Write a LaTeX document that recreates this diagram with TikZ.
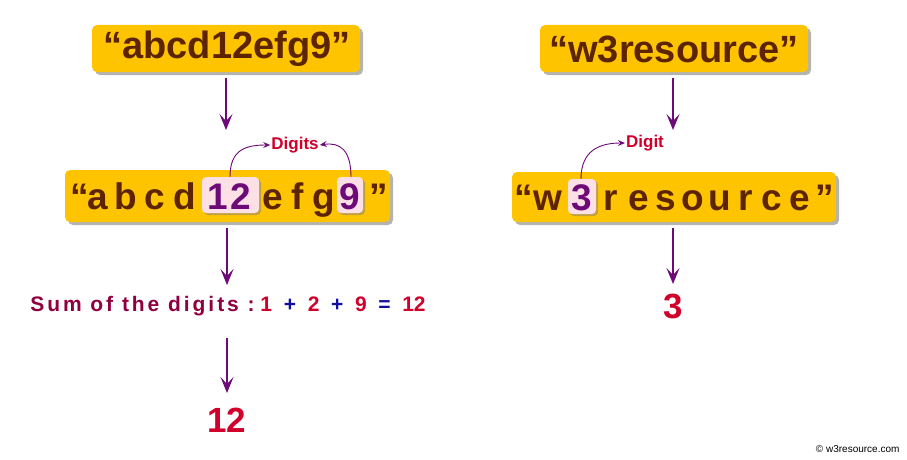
\documentclass[tikz,border=0pt]{standalone}
\usepackage{fontspec}
\setmainfont{Liberation Sans}
\usetikzlibrary{shadows,arrows.meta}
\definecolor{gold}{HTML}{FFC400}
\definecolor{brn}{HTML}{5C2400}
\definecolor{pinkbg}{HTML}{FDE0E6}
\definecolor{purp}{HTML}{6E0A78}
\definecolor{rd}{HTML}{D0002A}
\definecolor{wine}{HTML}{900040}
\definecolor{nav}{HTML}{1010A0}
\tikzset{
 ybox/.style={fill=gold,rounded corners=5pt,drop shadow={shadow xshift=3pt,shadow yshift=-3pt,fill=black!50,opacity=.6}},
 pbox/.style={fill=pinkbg,rounded corners=4pt,drop shadow={shadow xshift=2pt,shadow yshift=-2pt,fill=black!50,opacity=.5}},
 ch/.style={text=brn,font=\fontsize{37}{37}\selectfont\bfseries,inner sep=0pt,anchor=base},
 dg/.style={ch,text=purp},
 arr/.style={draw=purp,line width=2.2pt,-{Stealth[length=16pt,width=13pt,inset=7pt]}},
 carr/.style={draw=purp,line width=0.9pt,-{Stealth[length=7pt,width=6pt,inset=2.5pt]}},
 lbl/.style={text=rd,font=\fontsize{17}{17}\selectfont\bfseries,inner sep=1pt}
}
\begin{document}
\begin{tikzpicture}[x=1pt,y=-1pt]
\useasboundingbox (0,0) rectangle (907,460);
% top boxes
\path[ybox] (92,25) rectangle (360,72);
\node[ch,anchor=center,font=\fontsize{38}{38}\selectfont\bfseries] (t1) at (227,49) {“abcd12efg9”};
\path[ybox] (540,25) rectangle (808,72);
\node[ch,anchor=center,font=\fontsize{38}{38}\selectfont\bfseries] (t2) at (674,49) {“w3resource”};
% middle left
\path[ybox] (65,170) rectangle (390,222);
\path[pbox] (202,177) rectangle (259,213);
\path[pbox] (337,177) rectangle (363,213);
\foreach \c/\x in {“/80,a/98,b/126,c/155,d/185,e/273,f/298,g/324,”/379}
  \node[ch,anchor=base] at (\x,209) {\c};
\foreach \c/\x in {1/218,2/241,9/350}
  \node[dg] at (\x,209) {\c};
% middle right
\path[ybox] (512,172) rectangle (836,222);
\path[pbox] (568,179) rectangle (596,214);
\foreach \c/\x in {“/524,w/548,r/611,e/639,s/666,o/693,u/720,r/746,c/772,e/800,”/825}
  \node[ch] at (\x,210) {\c};
\node[dg] at (582,210) {3};
% labels
\node[lbl] (dl) at (295,145) {Digits};
\node[lbl] (dr) at (645,143) {Digit};
\draw[carr] (230,177) .. controls (230,150) and (245,145) .. (dl.west);
\draw[carr] (351,177) .. controls (351,150) and (340,142) .. (dl.east);
\draw[carr] (581,179) .. controls (581,150) and (600,143) .. (dr.west);
% sum line
\node[inner sep=0pt,font=\fontsize{21}{21}\selectfont\bfseries] (sum) at (228,306)
 {\textcolor{wine}{\addfontfeature{LetterSpace=14}Sum of the digits :}\ \textcolor{rd}{1}\ \ \textcolor{nav}{+}\ \ \textcolor{rd}{2}\ \ \textcolor{nav}{+}\ \ \textcolor{rd}{9}\ \ \textcolor{nav}{=}\ \ \textcolor{rd}{12}};
\node[text=rd,font=\fontsize{35}{35}\selectfont\bfseries,inner sep=0pt] (r1) at (227,420) {12};
\node[text=rd,font=\fontsize{35}{35}\selectfont\bfseries,inner sep=0pt] (r2) at (673,306) {3};
% arrows
\draw[arr] (226,78) -- (226,130);
\draw[arr] (227,228) -- (227,285);
\draw[arr] (227,338) -- (227,393);
\draw[arr] (673,78) -- (673,130);
\draw[arr] (673,228) -- (673,284);
\node[font=\fontsize{10}{10}\selectfont,anchor=east] (cp) at (903,449) {© w3resource.com};
\end{tikzpicture}
\end{document}
